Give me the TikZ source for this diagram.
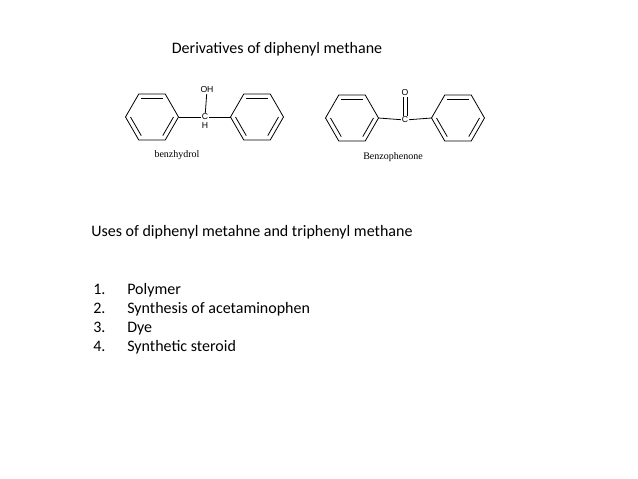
\documentclass[tikz,border=0pt]{standalone}
\usepackage{fontspec}
\setmainfont{Carlito}
\newfontfamily\tms{Liberation Serif}
\newfontfamily\arl{Liberation Sans}
\begin{document}
\begin{tikzpicture}[x=0.75pt,y=-0.75pt,
  bond/.style={line width=0.6pt},
  atom/.style={font=\arl\fontsize{6.5}{7}\selectfont,inner sep=0.5pt},
  molname/.style={font=\tms\fontsize{7.5}{9}\selectfont,inner sep=0pt},
  txt/.style={font=\fontsize{12}{14}\selectfont,inner sep=0pt,anchor=base west}]
\useasboundingbox (0,0) rectangle (638,478);
\newcommand\ring[2]{%
  \begin{scope}[shift={(#1,#2)}]
  \draw[bond] (0:26.5) -- (60:26.5) -- (120:26.5) -- (180:26.5) -- (240:26.5) -- (300:26.5) -- cycle;
  \foreach \a/\b in {0/60,120/180,240/300}
    \draw[bond] (\a:21.5) -- (\b:21.5);
  \end{scope}
}
\node[font=\fontsize{12}{14}\selectfont] (title) at (277,49) {Derivatives of diphenyl methane};
% benzhydrol
\ring{152}{117}
\ring{257}{117}
\node[atom] (c1) at (205,117) {C};
\node[atom] (oh) at (207,90) {OH};
\node[atom] (h1) at (205,126) {H};
\coordinate (r1) at (178.5,117);
\coordinate (r2) at (230.5,117);
\draw[bond] (r1) -- (c1);
\draw[bond] (c1) -- (r2);
\draw[bond] (c1) -- (oh);
\node[molname] (l1) at (177,155) {benzhydrol};
% benzophenone
\ring{352}{118}
\ring{458}{118}
\node[atom] (c2) at (405,120) {C};
\node[atom] (o) at (405,93) {O};
\coordinate (r3) at (378.5,118);
\coordinate (r4) at (431.5,118);
\draw[bond] (r3) -- (c2);
\draw[bond] (c2) -- (r4);
\draw[bond] ([xshift=-1.5pt]c2.north) -- ([xshift=-1.5pt]o.south);
\draw[bond] ([xshift=1.5pt]c2.north) -- ([xshift=1.5pt]o.south);
\node[molname] (l2) at (393,157) {Benzophenone};
\node[txt] (uses) at (91,236) {Uses of diphenyl metahne and triphenyl methane};
\foreach \n/\t/\y in {1/Polymer/294,2/Synthesis of acetaminophen/313,3/Dye/332,4/Synthetic steroid/351}{
  \node[txt] (n\n) at (93,\y) {\n.};
  \node[txt] (t\n) at (127,\y) {\t};
}
\end{tikzpicture}
\end{document}
